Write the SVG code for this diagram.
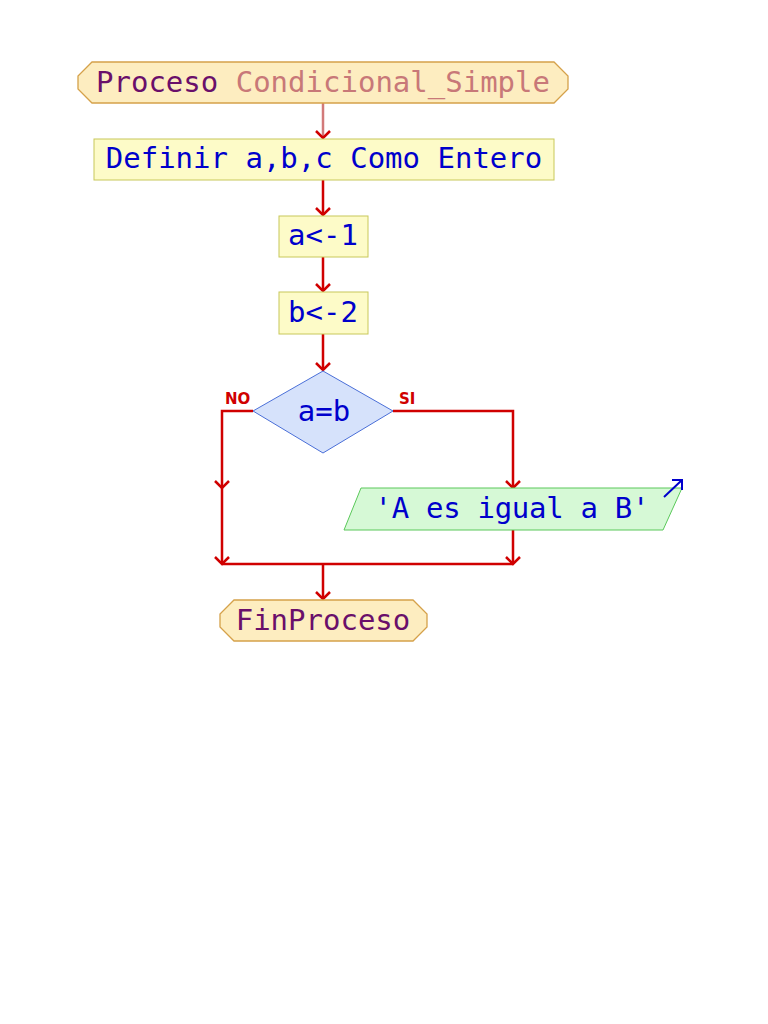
<svg xmlns="http://www.w3.org/2000/svg" width="768" height="1024" viewBox="0 0 768 1024">
<style>
.t{font-family:"DejaVu Sans Mono",monospace;font-size:29px;text-anchor:middle}
.term{fill:#fdedc0;stroke:#d5a14a;stroke-width:1.3}
.box{fill:#fdfbc8;stroke:#c8c85a;stroke-width:1}
.c{stroke:#d00000;stroke-width:2.5;fill:none}
.lbl{font-family:"DejaVu Sans",sans-serif;font-size:15px;font-weight:bold;fill:#d00000}
</style>
<defs>
<marker id="ah" markerWidth="20" markerHeight="12" refX="10" refY="10" markerUnits="userSpaceOnUse" orient="auto-start-reverse" viewBox="0 0 20 12">
</marker>
</defs>
<rect width="768" height="1024" fill="#fff"/>
<g id="connectors">
<line x1="323" y1="103" x2="323" y2="138" stroke="#d27a7a" stroke-width="2.5"/>
<path class="c" d="M323 180V215M323 257V291M323 334V370M253 411H222V564M393 411H513V487M513 530V564M222 564H513M323 564V599"/>
<path class="c" stroke-width="1.8" d="M316 131l7 7 7-7M316 208l7 7 7-7M316 284l7 7 7-7M316 363l7 7 7-7M215 481l7 7 7-7M506 481l7 7 7-7M215 557l7 7 7-7M506 557l7 7 7-7M316 592l7 7 7-7"/>
<text class="lbl" x="225" y="404">NO</text>
<text class="lbl" x="399" y="404">SI</text>
</g>
<g id="start">
<path class="term" d="M92 62H554L568 76V89L554 103H92L78 89V76Z"/>
<text class="t" x="323" y="92"><tspan fill="#6a0f6a">Proceso</tspan> <tspan fill="#c87878">Condicional_Simple</tspan></text>
</g>
<g id="definir">
<rect class="box" x="94" y="139" width="460" height="41"/>
<text class="t" x="324" y="168" fill="#0000cc">Definir a,b,c Como Entero</text>
</g>
<g id="a1">
<rect class="box" x="279" y="216" width="89" height="41"/>
<text class="t" x="323" y="245" fill="#0000cc">a&lt;-1</text>
</g>
<g id="b2">
<rect class="box" x="279" y="292" width="89" height="42"/>
<text class="t" x="323" y="322" fill="#0000cc">b&lt;-2</text>
</g>
<g id="cond">
<path d="M323 371L393 411L323 453L253 411Z" fill="#d6e2fb" stroke="#4a6fd8" stroke-width="1"/>
<text class="t" x="324" y="421" fill="#0000cc">a=b</text>
</g>
<g id="escribir">
<path d="M361 488H682L663 530H344Z" fill="#d6f9d6" stroke="#5ac85a" stroke-width="1"/>
<text class="t" x="512" y="518" fill="#0000cc" textLength="275">'A es igual a B'</text>
<path d="M664 497L682 480M672 480H682V490" stroke="#0000cc" stroke-width="2" fill="none"/>
</g>
<g id="fin">
<path class="term" d="M234 600H413L427 614V627L413 641H234L220 627V614Z"/>
<text class="t" x="323" y="630" fill="#6a0f6a">FinProceso</text>
</g>
</svg>
